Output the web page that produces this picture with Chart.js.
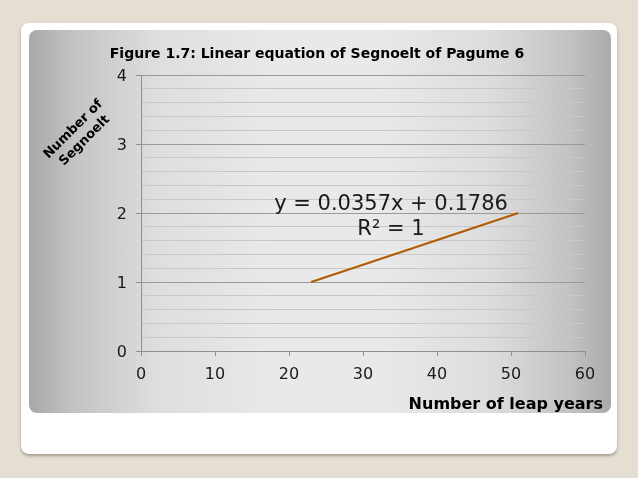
<!DOCTYPE html>
<html>
<head>
<meta charset="utf-8">
<script src="https://cdn.jsdelivr.net/npm/chart.js@4/dist/chart.umd.min.js"></script>
<style>
    html, body { margin: 0; padding: 0; }
    body { width: 638px; height: 478px; background: #e4ded3; position: relative; overflow: hidden; font-family: 'DejaVu Sans', sans-serif; }
    .card { position: absolute; left: 21px; top: 23px; width: 596px; height: 431px; background: #fff; border-radius: 8px; box-shadow: 0 2px 3px rgba(90,80,60,.45); }
    .panel { position: absolute; left: 29px; top: 30px; width: 582px; height: 383px; border-radius: 8px;
             background: linear-gradient(to right, #a8a8a8 0%, #c4c4c4 8%, #dedede 22%, #e9e9e9 42%, #e9e9e9 60%, #dcdcdc 80%, #c2c2c2 93%, #aaaaaa 100%); }
    #wrap { position: absolute; left: 29px; top: 30px; width: 582px; height: 383px; }
</style>
</head>
<body>
<div class="card"></div>
<div class="panel"></div>
<div id="wrap"><canvas id="chart"></canvas></div>

<script>
/* ── dados ───────────────────────────────────────────────────────────── */
const TITLE   = 'Figure 1.7: Linear equation of Segnoelt of Pagume 6';
const X_TITLE = 'Number of leap years';
const Y_TITLE = ['Number of', 'Segnoelt'];
const EQUATION = ['y = 0.0357x + 0.1786', 'R² = 1'];

const leapYears = [23, 51];     // eixo x
const segnoelt  = [1, 2];       // eixo y
const X_MIN = 0, X_MAX = 60, X_STEP = 10;
const Y_MIN = 0, Y_MAX = 4, Y_MINOR = 0.2;

/* ── estilo ──────────────────────────────────────────────────────────── */
const FONT = "'DejaVu Sans', sans-serif";
const INK = '#1a1a1a', MAJOR = '#9a9a9a', MINOR = '#c8c8c8', AXIS = '#8f8f8f', LINE = '#b35a00';
const isMajor = v => Math.abs(v - Math.round(v)) < 1e-6;

const textPlugin = {
    id: 'texts',
    afterDraw(chart) {
        const { ctx } = chart;
        ctx.save();
        ctx.fillStyle = '#000';
        ctx.textAlign = 'center';
        ctx.textBaseline = 'alphabetic';

        // título
        ctx.font = `bold 14px ${FONT}`;
        ctx.fillText(TITLE, 288, 28);

        // título do eixo x
        ctx.textAlign = 'right';
        ctx.font = `bold 16px ${FONT}`;
        ctx.fillText(X_TITLE, 574, 379);

        // título do eixo y (rotacionado 45°)
        ctx.save();
        ctx.translate(50, 105);
        ctx.rotate(-Math.PI / 4);
        ctx.textAlign = 'center';
        ctx.textBaseline = 'middle';
        ctx.font = `bold 13px ${FONT}`;
        ctx.fillText(Y_TITLE[0], 0, -8);
        ctx.fillText(Y_TITLE[1], 0, 8);
        ctx.restore();

        // equação da linha de tendência
        ctx.textAlign = 'center';
        ctx.fillStyle = INK;
        ctx.font = `21px ${FONT}`;
        ctx.fillText(EQUATION[0], 362, 180);
        ctx.fillText(EQUATION[1], 362, 205);
        ctx.restore();
    }
};

new Chart(document.getElementById('chart'), {
    type: 'scatter',
    data: {
        datasets: [{
            data: leapYears.map((x, i) => ({ x, y: segnoelt[i] })),
            showLine: true,
            borderColor: LINE,
            borderWidth: 2,
            pointRadius: 0,
            pointHoverRadius: 0,
        }]
    },
    options: {
        responsive: true, maintainAspectRatio: false, animation: false,
        layout: { padding: { left: 72, top: 45, right: 26, bottom: 24 } },
        plugins: { legend: { display: false }, tooltip: { enabled: false } },
        scales: {
            x: {
                type: 'linear', min: X_MIN, max: X_MAX,
                afterFit: s => { s.height = 38; },
                ticks: { stepSize: X_STEP, color: INK, padding: 9, font: { family: FONT, size: 16 } },
                grid: { drawOnChartArea: false, drawTicks: true, tickLength: 5, color: AXIS },
                border: { color: AXIS, width: 1 },
            },
            y: {
                type: 'linear', min: Y_MIN, max: Y_MAX,
                afterFit: s => { s.width = 40; },
                ticks: {
                    stepSize: Y_MINOR, autoSkip: false, color: INK, padding: 9, labelOffset: 2,
                    font: { family: FONT, size: 16 },
                    callback: v => isMajor(v) ? Math.round(v) : '',
                },
                grid: {
                    tickLength: 5,
                    color: c => isMajor(c.tick.value) ? MAJOR : MINOR,
                    tickColor: c => isMajor(c.tick.value) ? AXIS : 'rgba(0,0,0,0)',
                },
                border: { color: AXIS, width: 1 },
            }
        }
    },
    plugins: [textPlugin]
});
</script>
</body>
</html>
